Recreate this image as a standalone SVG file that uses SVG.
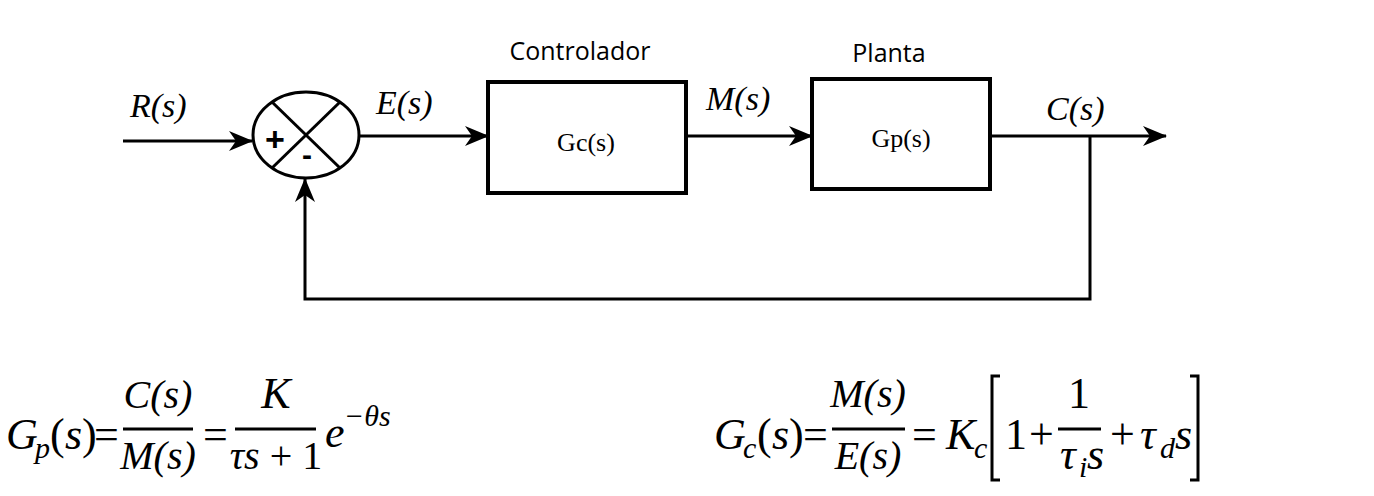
<svg xmlns="http://www.w3.org/2000/svg" width="1374" height="496" viewBox="0 0 1374 496">
<style>
.ln{stroke:#000;stroke-width:3;fill:none}
.bx{stroke:#000;stroke-width:4;fill:#fff}
.sig{font-family:"Liberation Serif",serif;font-style:italic;font-size:34px}
.blk{font-family:"Liberation Serif",serif;font-size:26px}
.ttl{font-family:"Open Sans","Liberation Sans",sans-serif;font-size:25px}
.m{font-family:"Liberation Serif",serif;font-style:italic;font-size:44px}
.mu{font-family:"Liberation Serif",serif;font-style:normal;font-size:44px}
.f{font-family:"Liberation Serif",serif;font-style:italic;font-size:40px}
.sb{font-family:"Liberation Serif",serif;font-style:italic;font-size:30px}
.fl{stroke:#000;stroke-width:3}
</style>
<defs>
<marker id="ah" viewBox="0 0 24 20" refX="23" refY="10" markerWidth="24" markerHeight="20" markerUnits="userSpaceOnUse" orient="auto">
<path d="M0,0 L24,10 L0,20 L7,10 Z" fill="#000"/>
</marker>
</defs>
<g id="connectors">
<line class="ln" x1="123" y1="141" x2="252" y2="141" marker-end="url(#ah)"/>
<line class="ln" x1="360" y1="136" x2="488" y2="136" marker-end="url(#ah)"/>
<line class="ln" x1="686" y1="136" x2="812" y2="136" marker-end="url(#ah)"/>
<line class="ln" x1="990" y1="136" x2="1166" y2="136" marker-end="url(#ah)"/>
<polyline class="ln" points="1090,136 1090,299 305,299 305,179" marker-end="url(#ah)"/>
</g>
<g id="sum">
<ellipse cx="306" cy="135" rx="53" ry="43" class="ln" stroke-width="4"/>
<line class="ln" stroke-width="4" x1="272" y1="102" x2="340" y2="168"/>
<line class="ln" stroke-width="4" x1="340" y1="102" x2="272" y2="168"/>
<text x="275" y="151" font-family="Liberation Sans,sans-serif" font-weight="bold" font-size="34" text-anchor="middle">+</text>
<text x="307" y="165" font-family="Liberation Sans,sans-serif" font-weight="bold" font-size="30" text-anchor="middle">-</text>
</g>
<g id="controlador">
<rect class="bx" x="488" y="82" width="198" height="111"/>
<text class="blk" x="586" y="151" text-anchor="middle">Gc(s)</text>
<text class="ttl" x="580" y="60" text-anchor="middle">Controlador</text>
</g>
<g id="planta">
<rect class="bx" x="812" y="79" width="178" height="110"/>
<text class="blk" x="901" y="147" text-anchor="middle">Gp(s)</text>
<text class="ttl" x="889" y="62" text-anchor="middle">Planta</text>
</g>
<g id="labels">
<text class="sig" x="130" y="117">R(s)</text>
<text class="sig" x="376" y="114">E(s)</text>
<text class="sig" x="706" y="110">M(s)</text>
<text class="sig" x="1046" y="120">C(s)</text>
</g>
<g id="eq1">
<text class="m" x="6" y="449">G</text>
<text class="sb" x="35" y="458">p</text>
<text class="mu" x="50" y="449">(</text>
<text class="m" x="65" y="449">s</text>
<text class="mu" x="82" y="449">)</text>
<text class="mu" x="94" y="449">=</text>
<text class="f" x="158" y="408" text-anchor="middle">C(s)</text>
<line class="fl" x1="123" y1="429" x2="193" y2="429"/>
<text class="f" x="158" y="469" text-anchor="middle">M(s)</text>
<text class="mu" x="203" y="449">=</text>
<text class="m" x="276" y="408" text-anchor="middle">K</text>
<line class="fl" x1="235" y1="429" x2="316" y2="429"/>
<text class="f" x="276" y="469" text-anchor="middle">τs <tspan font-style="normal">+ 1</tspan></text>
<text class="m" x="325" y="447">e</text>
<text class="sb" x="344" y="426">−θs</text>
</g>
<g id="eq2">
<text class="m" x="714" y="449">G</text>
<text class="sb" x="743" y="458">c</text>
<text class="mu" x="757" y="449">(</text>
<text class="m" x="772" y="449">s</text>
<text class="mu" x="789" y="449">)</text>
<text class="mu" x="803" y="449">=</text>
<text class="f" x="868" y="407" text-anchor="middle">M(s)</text>
<line class="fl" x1="832" y1="429" x2="905" y2="429"/>
<text class="f" x="868" y="469" text-anchor="middle">E(s)</text>
<text class="mu" x="912" y="449">=</text>
<text class="m" x="946" y="449">K</text>
<text class="sb" x="974" y="458">c</text>
<path d="M1000,376 H992 V480 H1000" class="ln" stroke-width="3"/>
<text class="mu" x="1005" y="449">1</text>
<text class="mu" x="1029" y="449">+</text>
<text class="mu" x="1079" y="408" text-anchor="middle">1</text>
<line class="fl" x1="1058" y1="429" x2="1101" y2="429"/>
<text class="m" x="1060" y="469">τ</text>
<text class="sb" x="1079" y="477">i</text>
<text class="m" x="1087" y="469">s</text>
<text class="mu" x="1110" y="449">+</text>
<text class="m" x="1140" y="449">τ</text>
<text class="sb" x="1160" y="458">d</text>
<text class="m" x="1175" y="449">s</text>
<path d="M1190,376 H1198 V480 H1190" class="ln" stroke-width="3"/>
</g>
</svg>
